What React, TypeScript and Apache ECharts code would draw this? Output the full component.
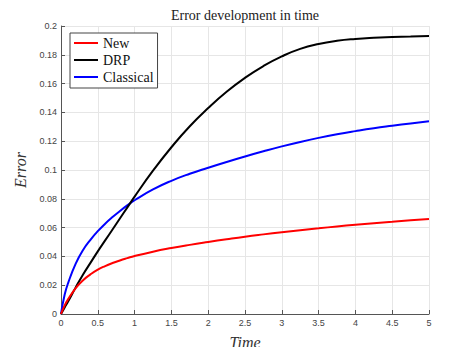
import React, { useEffect, useRef } from "react";
import * as echarts from "echarts";

const times = [0, 0.05, 0.1, 0.2, 0.3, 0.4, 0.5, 0.6, 0.7, 0.8, 0.9, 1, 1.25, 1.5, 1.75, 2, 2.25, 2.5, 2.75, 3, 3.25, 3.5, 3.75, 4, 4.25, 4.5, 4.75, 5];
const newErr = [0, 0.006, 0.0105, 0.018, 0.0235, 0.0275, 0.0308, 0.0333, 0.0354, 0.0372, 0.0388, 0.0403, 0.0433, 0.0458, 0.048, 0.05, 0.0519, 0.0537, 0.0553, 0.0568, 0.0582, 0.0595, 0.0608, 0.062, 0.0631, 0.0641, 0.0651, 0.066];
const drpErr = [0, 0.0045, 0.009, 0.0185, 0.0275, 0.0355, 0.0435, 0.0511, 0.0587, 0.0663, 0.0739, 0.0815, 0.0995, 0.1158, 0.1304, 0.143, 0.1543, 0.164, 0.1722, 0.1789, 0.1841, 0.1875, 0.1897, 0.191, 0.1918, 0.1923, 0.1927, 0.1931];
const classicalErr = [0, 0.0135, 0.022, 0.035, 0.0445, 0.0515, 0.0575, 0.0627, 0.0673, 0.0715, 0.0754, 0.079, 0.0865, 0.0925, 0.0974, 0.1016, 0.1056, 0.1094, 0.113, 0.1164, 0.1195, 0.1223, 0.1248, 0.127, 0.129, 0.1307, 0.1323, 0.1338];
const seriesNames = ["New", "DRP", "Classical"];
const seriesColors = ["#ff0000", "#000000", "#0000ff"];
const titleText = "Error development in time";

export default function App() {
  const ref = useRef<HTMLDivElement>(null);
  useEffect(() => {
    if (!ref.current) return;
    const chart = echarts.init(ref.current, undefined, { renderer: "svg" });
    const allData = [newErr, drpErr, classicalErr];
    const tickLabel = { fontFamily: "Liberation Sans", fontSize: 9, color: "#444" };
    chart.setOption({
      animation: false,
      backgroundColor: "#ffffff",
      graphic: [
        {
          type: "text",
          x: 245,
          y: 15,
          style: {
            text: titleText,
            font: "14px 'Liberation Serif'",
            fill: "#222",
            textAlign: "center",
            textVerticalAlign: "middle",
          },
        },
      ],
      grid: { left: 61, right: 45, top: 26, bottom: 39 },
      legend: {
        orient: "vertical",
        left: 70,
        top: 33,
        padding: [3, 4, 4, 4],
        itemGap: 3,
        itemWidth: 24,
        itemHeight: 2,
        icon: "rect",
        borderColor: "#444",
        borderWidth: 1,
        backgroundColor: "#ffffff",
        textStyle: { fontFamily: "Liberation Serif", fontSize: 14, color: "#111" },
        data: seriesNames,
      },
      xAxis: {
        type: "value",
        min: 0,
        max: 5,
        interval: 0.5,
        name: "Time",
        nameLocation: "middle",
        nameGap: 20,
        nameTextStyle: { fontFamily: "Liberation Serif", fontStyle: "italic", fontSize: 16, color: "#333" },
        axisLine: { show: true, lineStyle: { color: "#555", width: 1 } },
        axisTick: { show: true, inside: true, length: 4, lineStyle: { color: "#555" } },
        axisLabel: { ...tickLabel, margin: 4 },
        splitLine: { show: true, lineStyle: { color: "#e6e6e6", width: 1 } },
      },
      yAxis: {
        type: "value",
        min: 0,
        max: 0.2,
        interval: 0.02,
        name: "Error",
        nameLocation: "middle",
        nameGap: 27,
        nameRotate: 90,
        nameTextStyle: { fontFamily: "Liberation Serif", fontStyle: "italic", fontSize: 16, color: "#333" },
        axisLine: { show: true, lineStyle: { color: "#555", width: 1 } },
        axisTick: { show: true, inside: true, length: 4, lineStyle: { color: "#555" } },
        axisLabel: { ...tickLabel, margin: 4 },
        splitLine: { show: true, lineStyle: { color: "#e6e6e6", width: 1 } },
      },
      series: seriesNames.map((name, i) => ({
        name,
        type: "line",
        data: times.map((t, j) => [t, allData[i][j]]),
        smooth: 0.5,
        showSymbol: false,
        symbol: "none",
        lineStyle: { color: seriesColors[i], width: 2 },
        itemStyle: { color: seriesColors[i] },
        z: 3 - i,
      })),
    });
    return () => chart.dispose();
  }, []);
  return <div ref={ref} style={{ width: 474, height: 355, margin: -8 }} />;
}
